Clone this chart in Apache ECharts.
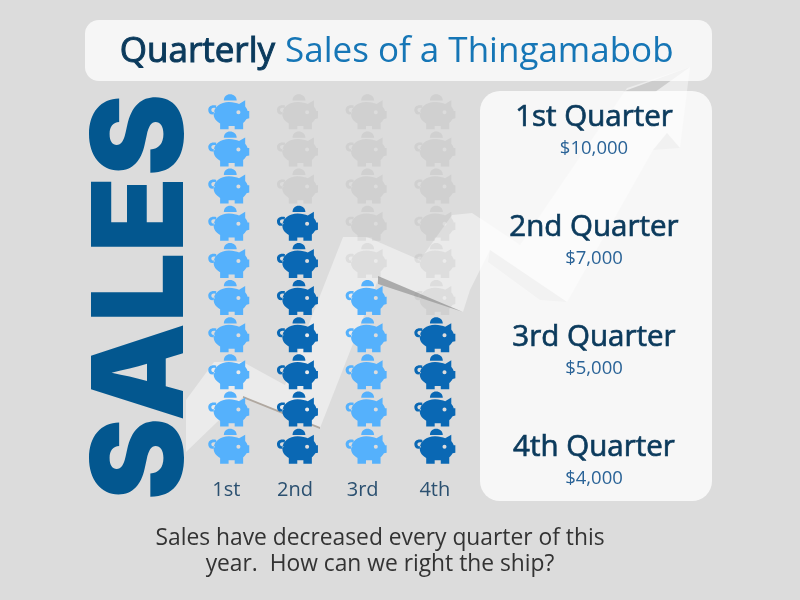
<!DOCTYPE html>
<html><head><meta charset="utf-8">
<style>html,body{margin:0;padding:0;background:#dcdcdc}#c{width:800px;height:600px}</style>
<script src="https://cdn.jsdelivr.net/npm/echarts@6/dist/echarts.min.js"></script>
</head><body><div id="c"></div>
<script>
const quarters = ['1st','2nd','3rd','4th'];
const quarterTitles = ['1st Quarter','2nd Quarter','3rd Quarter','4th Quarter'];
const sales = [10000,7000,5000,4000];
const salesLabels = ['$10,000','$7,000','$5,000','$4,000'];
const perIcon = 1000;
const totalIcons = 10;
const FONT = '"Open Sans"';
const PIG = 'path://M100 47C100 35 108 28 118 28C129 28 138 35 138 47Z'
 + 'M70 88C70 66 90 51 115 51C128 51 138 54 145 57L163 46L163 65C167 70 169 74 170 78L175 78L175 100L167 102C163 108 160 112 157 114L157 133L132 133L132 123L114 123L114 133L89 133L89 116C77 108 70 100 70 88Z'
 + 'M149 82A6 6 0 1 0 137 82A6 6 0 1 0 149 82Z'
 + 'M78 62C62 58 54 66 54 75C54 84 60 90 70 88L74 80C68 83 63 80 63 75C63 69 70 67 76 70Z';
const colColors = ['#55b1fc','#0a68b4','#55b1fc','#0a68b4'];
const cells = [];
quarters.forEach((q,c)=>{
  for(let i=0;i<totalIcons;i++){
    const on = i < sales[c]/perIcon;
    cells.push({value:[q,i+0.5],itemStyle:{color:on?colColors[c]:'rgba(140,140,140,0.15)',opacity:1}});
  }
});
const poly = (points,fill)=>({type:'polygon',shape:{points},style:{fill},silent:true});
const arrow = [
 poly([[186,452],[186,400],[214,362],[243,362],[285,385],[343,237],[367,237],[420,260],[452,215],[472,213],[520,245],[627,88],[690,67],[680,148],[667,133],[653,150],[567,302],[490,250],[470,290],[463,312],[378,280],[320,428],[243,397]],'rgba(255,255,255,0.42)'),
 poly([[378,276],[378,284],[463,312]],'#ababab'),
 poly([[243,396],[243,398],[320,429],[320,427]],'#b0a8a0'),
 poly([[490,250],[567,302],[540,300],[488,262]],'rgba(150,150,150,0.35)'),
 poly([[653,150],[667,133],[680,148]],'rgba(150,150,150,0.4)'),
 poly([[622,92],[690,67],[655,92]],'rgba(150,150,150,0.35)')
];
const text = (x,y,t,size,fill,weight,align,sw)=>({type:'text',x,y,silent:true,style:Object.assign({text:t,x:0,y:0,align:align||'center',verticalAlign:'middle',font:`${weight||400} ${size}px ${FONT}`,fill},sw?{stroke:fill,lineWidth:sw}:{})});
const panelText = [];
quarterTitles.forEach((t,i)=>{
  panelText.push(text(594,118+i*110,t,29.5,'#0b3a5c',400,'center',0.7));
  panelText.push(text(594,149+i*110,salesLabels[i],18.5,'#2a6397',400));
});
const labelRich = {};
[5,5,7,0].forEach((p,i)=>{labelRich['q'+i]={fontFamily:FONT,fontSize:20,color:'#2b5070',padding:[0,p,0,0]};});
const chart = echarts.init(document.getElementById('c'),null,{renderer:'canvas'});
chart.setOption({
  animation:false,
  backgroundColor:'#dcdcdc',
  grid:{left:194.4,top:93.2,width:274.8,height:371.5},
  xAxis:{type:'category',data:quarters,axisLine:{show:false},axisTick:{show:false},splitLine:{show:false},
    axisLabel:{margin:16,rich:labelRich,formatter:(v,i)=>`{q${i}|${v}}`}},
  yAxis:{type:'value',min:0,max:totalIcons,show:false},
  series:[{type:'scatter',symbol:PIG,symbolSize:[41,35],data:cells,silent:true,z:5}],
  graphic:{elements:[
    ...arrow,
    {type:'rect',shape:{x:85,y:20,width:627,height:61,r:14},style:{fill:'rgba(255,255,255,0.75)'},silent:true},
    {type:'rect',shape:{x:480,y:91,width:232,height:410,r:20},style:{fill:'rgba(255,255,255,0.78)'},silent:true},
    text(275,52,'Quarterly',35,'#0b3a5c',400,'right',1),
    text(285,52,'Sales of a Thingamabob',35,'#1676b6',400,'left'),
    ...panelText,
    {type:'text',x:145,y:297,rotation:Math.PI/2,scaleX:0.977,silent:true,style:{text:'SALES',x:0,y:0,align:'center',verticalAlign:'middle',font:'900 127px Inter',fill:'#03578f'}},
    text(380,539,'Sales have decreased every quarter of this',22.8,'#333333'),
    text(380,565,'year.  How can we right the ship?',22.8,'#333333')
  ]}
});
</script></body></html>
